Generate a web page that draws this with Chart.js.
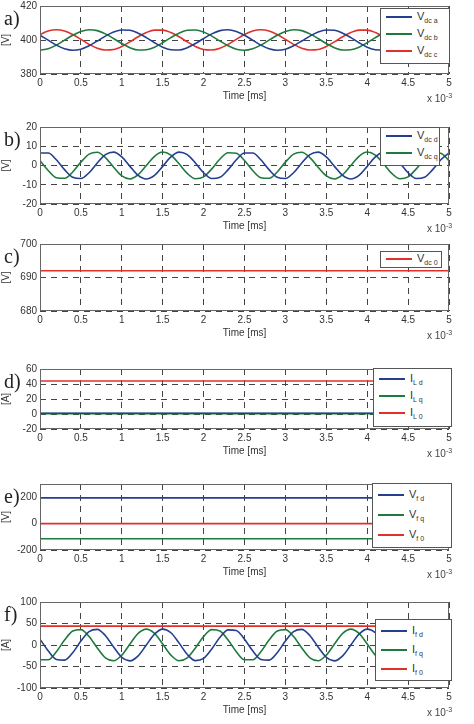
<!DOCTYPE html>
<html><head><meta charset="utf-8">
<script src="https://cdn.jsdelivr.net/npm/chart.js@4"></script>
<style>
body{margin:0;background:#fff;width:474px;height:724px;position:relative;overflow:hidden;font-family:"Liberation Sans",Arial,sans-serif}
.pan{position:absolute;left:0;width:474px}
.lbl{position:absolute;left:4px;font-family:"Liberation Serif",serif;font-size:20px;color:#222}
.exp{position:absolute;left:427px;font-size:10px;color:#444}
.exp sup{font-size:7px}
.leg{position:absolute;background:#fff;border:1px solid #555;font-size:11px;color:#333;z-index:5}
.leg div{position:absolute;left:5px;white-space:nowrap}
.leg i{display:inline-block;width:26px;height:0;border-top:2px solid;vertical-align:middle;margin-right:5px}
.leg sub{font-size:7px}
</style></head><body>
<script>
const times=[0,0.1,0.2,0.3,0.4,0.5,0.6,0.7,0.8,0.9,1,1.1,1.2,1.3,1.4,1.5,1.6,1.7,1.8,1.9,2,2.1,2.2,2.3,2.4,2.5,2.6,2.7,2.8,2.9,3,3.1,3.2,3.3,3.4,3.5,3.6,3.7,3.8,3.9,4,4.1,4.2,4.3,4.4,4.5,4.6,4.7,4.8,4.9,5];
const tEnds=[0,5];
const xTicks=["0","0.5","1","1.5","2","2.5","3","3.5","4","4.5","5"];
// a) V_dc a, b, c
const vdcA=[402.8,399.9,397,394.9,394,394.6,396.6,399.4,402.3,404.7,405.9,405.7,404,401.4,398.4,395.8,394.3,394.1,395.5,397.9,400.9,403.6,405.5,406,405,402.8,399.9,397,394.9,394,394.6,396.6,399.4,402.3,404.7,405.9,405.7,404,401.4,398.4,395.8,394.3,394.1,395.5,397.9,400.9,403.6,405.5,406,405,402.8];
const vdcB=[394,394.9,397,399.9,402.8,405,406,405.5,403.6,400.9,397.9,395.5,394.1,394.3,395.8,398.4,401.4,404,405.7,405.9,404.7,402.3,399.4,396.6,394.6,394,394.9,397,399.9,402.8,405,406,405.5,403.6,400.9,397.9,395.5,394.1,394.3,395.8,398.4,401.4,404,405.7,405.9,404.7,402.3,399.4,396.6,394.6,394];
const vdcC=[403.2,405.3,406,405.3,403.2,400.4,397.4,395.2,394.1,394.4,396.2,398.9,401.9,404.4,405.8,405.8,404.4,401.9,398.9,396.2,394.4,394.1,395.2,397.4,400.4,403.2,405.3,406,405.3,403.2,400.4,397.4,395.2,394.1,394.4,396.2,398.9,401.9,404.4,405.8,405.8,404.4,401.9,398.9,396.2,394.4,394.1,395.2,397.4,400.4,403.2];
// b) V_dc d, q
const vdcD=[6.51,6.51,2.98,-2.16,-6.13,-6.78,-3.75,1.31,5.66,6.94,4.46,-0.44,-5.1,-7,-5.1,-0.44,4.46,6.94,5.66,1.31,-3.75,-6.78,-6.13,-2.16,2.98,6.51,6.51,2.98,-2.16,-6.13,-6.78,-3.75,1.31,5.66,6.94,4.46,-0.44,-5.1,-7,-5.1,-0.44,4.46,6.94,5.66,1.31,-3.75,-6.78,-6.13,-2.16,2.98,6.51];
const vdcQ=[2.58,-2.58,-6.33,-6.66,-3.37,1.74,5.91,6.88,4.11,-0.88,-5.39,-6.99,-4.79,0,4.79,6.99,5.39,0.88,-4.11,-6.88,-5.91,-1.74,3.37,6.66,6.33,2.58,-2.58,-6.33,-6.66,-3.37,1.74,5.91,6.88,4.11,-0.88,-5.39,-6.99,-4.79,0,4.79,6.99,5.39,0.88,-4.11,-6.88,-5.91,-1.74,3.37,6.66,6.33,2.58];
// c) V_dc 0
const vdc0=[692,692];
// d) I_L
const iLd=[1,1], iLq=[0.5,0.5], iL0=[44,44];
// e) V_f
const vFd=[195,195], vFq=[-115,-115], vF0=[0,0];
const eTicks=[-200,0,200];
// f) I_f
const iFd=[13.6,-13.6,-33.5,-35.2,-17.8,9.2,31.2,36.4,21.7,-4.7,-28.5,-36.9,-25.3,0,25.3,36.9,28.5,4.7,-21.7,-36.4,-31.2,-9.2,17.8,35.2,33.5,13.6,-13.6,-33.5,-35.2,-17.8,9.2,31.2,36.4,21.7,-4.7,-28.5,-36.9,-25.3,0,25.3,36.9,28.5,4.7,-21.7,-36.4,-31.2,-9.2,17.8,35.2,33.5,13.6];
const iFq=[-34.4,-34.4,-15.8,11.4,32.4,35.8,19.8,-6.9,-29.9,-36.7,-23.6,2.3,27,37,27,2.3,-23.6,-36.7,-29.9,-6.9,19.8,35.8,32.4,11.4,-15.8,-34.4,-34.4,-15.8,11.4,32.4,35.8,19.8,-6.9,-29.9,-36.7,-23.6,2.3,27,37,27,2.3,-23.6,-36.7,-29.9,-6.9,19.8,35.8,32.4,11.4,-15.8,-34.4];
const iF0=[44,44];

const BLUE='#233f8f',GREEN='#1f7a3e',RED='#e0302c';
function pts(xs,ys){return ys.map((y,i)=>({x:xs[i],y}));}
const boxPlugin={id:'box',afterDraw(c){const a=c.chartArea,x=c.ctx;x.save();x.strokeStyle='#666';x.lineWidth=1;x.setLineDash([]);x.strokeRect(a.left+0.5,a.top+0.5,a.width-1,a.height-1);x.restore();}};
const PADT=8;
function panel(id,top,bottom,label,yTitle,ymin,ymax,step,series,legend,only){
  const h=bottom-top;
  const d=document.createElement('div');d.className='pan';d.style.top=(top-PADT)+'px';d.style.height=(h+PADT+28)+'px';
  const cv=document.createElement('canvas');d.appendChild(cv);document.body.appendChild(d);
  const l=document.createElement('div');l.className='lbl';l.style.top=(top+2)+'px';l.textContent=label;document.body.appendChild(l);
  const e=document.createElement('div');e.className='exp';e.style.top=(bottom+18)+'px';e.innerHTML='x 10<sup>-3</sup>';document.body.appendChild(e);
  const lg=document.createElement('div');lg.className='leg';Object.assign(lg.style,legend.box);
  legend.items.forEach((it,i)=>{const r=document.createElement('div');r.style.top=(legend.y0+i*legend.dy)+'px';r.innerHTML='<i style="border-color:'+it[0]+'"></i>'+it[1];lg.appendChild(r);});
  document.body.appendChild(lg);
  new Chart(cv,{type:'line',
    data:{datasets:series.map(s=>({data:pts(s.x,s.y),borderColor:s.c,borderWidth:1.6,pointRadius:0,tension:0.4,cubicInterpolationMode:'monotone'}))},
    options:{responsive:true,maintainAspectRatio:false,animation:false,
      layout:{padding:{top:PADT,right:25,left:0,bottom:0}},
      plugins:{legend:{display:false},tooltip:{enabled:false}},
      scales:{
        x:{type:'linear',min:0,max:5,afterFit(s){s.height=28;},
          ticks:{stepSize:0.5,padding:3,color:'#333',font:{size:10,family:'Liberation Sans'},callback:(v,i)=>xTicks[i]},
          grid:{color:'#444',lineWidth:1,drawTicks:false},border:{display:false,dash:[6,5]},
          title:{display:true,text:'Time [ms]',color:'#333',font:{size:10,family:'Liberation Sans'},padding:{top:0,bottom:0}}},
        y:{min:ymin,max:ymax,afterFit(s){s.width=40;},
          afterBuildTicks(s){if(only)s.ticks=only.map(v=>({value:v}));},
          ticks:{stepSize:step,padding:3,color:'#333',font:{size:10,family:'Liberation Sans'}},
          grid:{color:'#444',lineWidth:1,drawTicks:false},border:{display:false,dash:[6,5]},
          title:{display:true,text:yTitle,color:'#333',font:{size:10,family:'Liberation Sans'},padding:{top:0,bottom:0}}}
      }},plugins:[boxPlugin]});
}
panel('a',5,74,'a)','[V]',380,420,20,[{x:times,y:vdcA,c:BLUE},{x:times,y:vdcB,c:GREEN},{x:times,y:vdcC,c:RED}],
 {box:{left:'380px',top:'8px',width:'68px',height:'54px'},y0:1,dy:17,items:[[BLUE,'V<sub>dc a</sub>'],[GREEN,'V<sub>dc b</sub>'],[RED,'V<sub>dc c</sub>']]});
panel('b',126,204,'b)','[V]',-20,20,10,[{x:times,y:vdcD,c:BLUE},{x:times,y:vdcQ,c:GREEN}],
 {box:{left:'380px',top:'127px',width:'58px',height:'37px'},y0:1,dy:17,items:[[BLUE,'V<sub>dc d</sub>'],[GREEN,'V<sub>dc q</sub>']]});
panel('c',243,311,'c)','[V]',680,700,10,[{x:tEnds,y:vdc0,c:RED}],
 {box:{left:'380px',top:'251px',width:'60px',height:'15px'},y0:0,dy:17,items:[[RED,'V<sub>dc 0</sub>']]});
panel('d',368,429,'d)','[A]',-20,60,20,[{x:tEnds,y:iLd,c:BLUE},{x:tEnds,y:iLq,c:GREEN},{x:tEnds,y:iL0,c:RED}],
 {box:{left:'373px',top:'368px',width:'77px',height:'57px'},y0:3,dy:17,items:[[BLUE,'I<sub>L d</sub>'],[GREEN,'I<sub>L q</sub>'],[RED,'I<sub>L 0</sub>']]});
panel('e',483,550,'e)','[V]',-200,300,100,[{x:tEnds,y:vFd,c:BLUE},{x:tEnds,y:vFq,c:GREEN},{x:tEnds,y:vF0,c:RED}],
 {box:{left:'372px',top:'483px',width:'78px',height:'63px'},y0:4,dy:20,items:[[BLUE,'V<sub>f d</sub>'],[GREEN,'V<sub>f q</sub>'],[RED,'V<sub>f 0</sub>']]},eTicks);
panel('f',601,688,'f)','[A]',-100,100,50,[{x:times,y:iFd,c:BLUE},{x:times,y:iFq,c:GREEN},{x:tEnds,y:iF0,c:RED}],
 {box:{left:'375px',top:'619px',width:'75px',height:'60px'},y0:4,dy:19,items:[[BLUE,'I<sub>f d</sub>'],[GREEN,'I<sub>f q</sub>'],[RED,'I<sub>f 0</sub>']]});
</script>
</body></html>
